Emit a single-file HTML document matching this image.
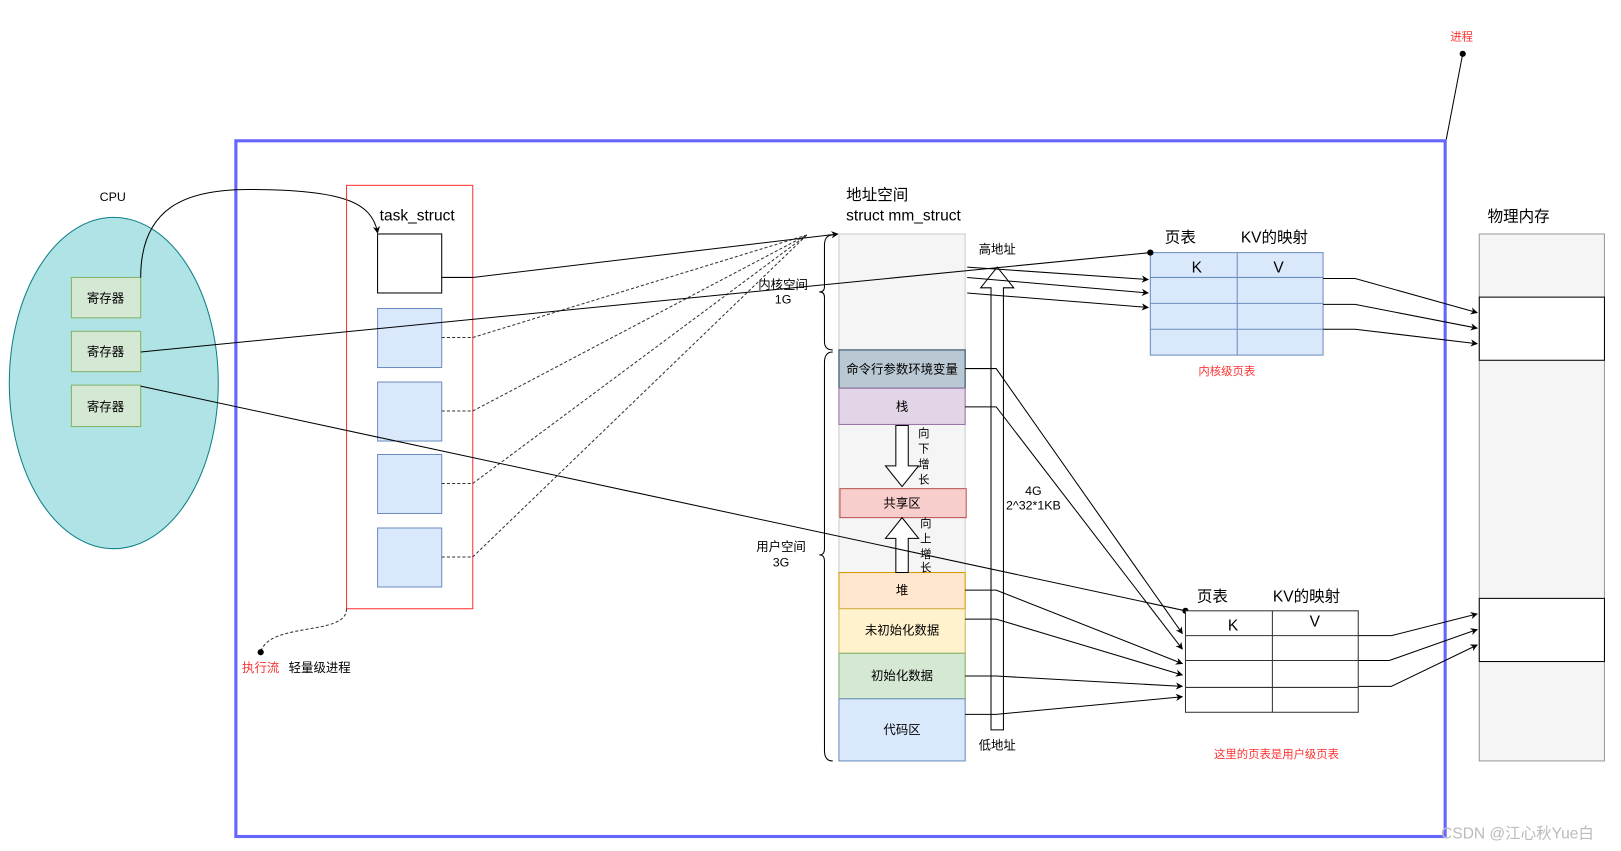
<!DOCTYPE html>
<html><head><meta charset="utf-8"><style>
html,body{margin:0;padding:0;background:#fff;}
svg{display:block;}
text{font-family:"Liberation Sans","Noto Sans CJK SC",sans-serif;}
</style></head><body>
<svg width="1621" height="851" viewBox="0 0 1567 822" preserveAspectRatio="none" xmlns="http://www.w3.org/2000/svg">
<defs>
<marker id="a" viewBox="0 0 10 10" refX="9" refY="5" markerWidth="7" markerHeight="7" orient="auto"><path d="M0,0L10,5L0,10L3,5z" fill="#000"/></marker>
</defs>
<rect width="1567" height="822" fill="#fff"/>
<text x="1413" y="39" font-size="11" fill="#ff3333" text-anchor="middle">进程</text>
<circle cx="1414" cy="52" r="3" fill="#000"/>
<line x1="1414" y1="52" x2="1398" y2="135" stroke="#000"/>
<rect x="228" y="136" width="1169" height="672" fill="none" stroke="#6666ff" stroke-width="3"/>
<text x="109" y="194" font-size="12" text-anchor="middle">CPU</text>
<ellipse cx="110" cy="370" rx="101" ry="160" fill="#b0e3e6" stroke="#0e8088"/>
<g fill="#d5e8d4" stroke="#82b366">
<rect x="69" y="268" width="67" height="39"/><rect x="69" y="320" width="67" height="39"/><rect x="69" y="372" width="67" height="40"/>
</g>
<g font-size="12" text-anchor="middle"><text x="102" y="292">寄存器</text><text x="102" y="344">寄存器</text><text x="102" y="397">寄存器</text></g>
<path d="M136,268 C136,200 180,183 240,183 C330,183 360,195 365,225" fill="none" stroke="#000" marker-end="url(#a)"/>
<rect x="335" y="179" width="122" height="409" fill="none" stroke="#ff3333"/>
<text x="367" y="213" font-size="15">task_struct</text>
<rect x="365" y="226" width="62" height="57" fill="#fff" stroke="#000"/>
<g fill="#dae8fc" stroke="#6c8ebf">
<rect x="365" y="298" width="62" height="57"/><rect x="365" y="369" width="62" height="57"/><rect x="365" y="439" width="62" height="57"/><rect x="365" y="510" width="62" height="57"/>
</g>
<g fill="none" stroke="#333" stroke-dasharray="3,2">
<path d="M427,326H457L780,227"/><path d="M427,397H457L780,227"/><path d="M427,467H457L780,227"/><path d="M427,538H457L780,227"/>
<path d="M335,588 C335,615 260,600 252,630"/>
</g>
<circle cx="252" cy="630" r="3" fill="#000"/>
<text x="252" y="649" font-size="12" fill="#ff3333" text-anchor="middle">执行流</text>
<text x="309" y="649" font-size="12" text-anchor="middle">轻量级进程</text>
<path d="M427,268H457L810,226" fill="none" stroke="#000" marker-end="url(#a)"/>
<text x="818" y="193" font-size="15">地址空间</text>
<text x="818" y="213" font-size="15">struct mm_struct</text>
<rect x="811" y="226" width="122" height="509" fill="#f5f5f5" stroke="#ccc"/>
<path d="M805,227 Q797,227 797,237 V277 Q797,282 792,282 Q797,282 797,287 V330 Q797,338 805,338" fill="none" stroke="#000"/>
<path d="M805,340 Q797,340 797,350 V530 Q797,536 792,536 Q797,536 797,542 V725 Q797,735 805,735" fill="none" stroke="#000"/>
<g font-size="12" text-anchor="middle">
<text x="757" y="279">内核空间</text><text x="757" y="293">1G</text>
<text x="755" y="532">用户空间</text><text x="755" y="547">3G</text>
</g>
<rect x="811" y="338" width="122" height="37" fill="#bac8d3" stroke="#23445d"/>
<rect x="811" y="375" width="122" height="35" fill="#e1d5e7" stroke="#9673a6"/>
<rect x="812" y="472" width="122" height="28" fill="#f8cecc" stroke="#b85450"/>
<rect x="811" y="553" width="122" height="35" fill="#ffe6cc" stroke="#d79b00"/>
<rect x="811" y="588" width="122" height="43" fill="#fff2cc" stroke="#d6b656"/>
<rect x="811" y="631" width="122" height="44" fill="#d5e8d4" stroke="#82b366"/>
<rect x="811" y="675" width="122" height="60" fill="#dae8fc" stroke="#6c8ebf"/>
<g font-size="12" text-anchor="middle">
<text x="872" y="361">命令行参数环境变量</text><text x="872" y="397">栈</text><text x="872" y="490">共享区</text>
<text x="872" y="574">堆</text><text x="872" y="613">未初始化数据</text><text x="872" y="657">初始化数据</text><text x="872" y="709">代码区</text>
</g>
<path d="M866,411H878V450H888L872,470L856,450H866Z" fill="#fff" stroke="#000"/>
<path d="M866,553V520H856L872,500L888,520H878V553Z" fill="#fff" stroke="#000"/>
<g font-size="11" text-anchor="middle">
<text x="893" y="422">向</text><text x="893" y="437">下</text><text x="893" y="452">增</text><text x="893" y="467">长</text>
<text x="895" y="509">向</text><text x="895" y="524">上</text><text x="895" y="539">增</text><text x="895" y="552">长</text>
</g>
<path d="M958,705V278H948L964,258L980,278H970V705Z" fill="#fff" stroke="#000"/>
<g font-size="12" text-anchor="middle">
<text x="964" y="245">高地址</text><text x="964" y="724">低地址</text>
<text x="999" y="478">4G</text><text x="999" y="492">2^32*1KB</text>
</g>
<text x="1141" y="234" font-size="15" text-anchor="middle">页表</text>
<text x="1232" y="234" font-size="15" text-anchor="middle">KV的映射</text>
<rect x="1112" y="244" width="167" height="99" fill="#dae8fc" stroke="#6c8ebf"/>
<g stroke="#6c8ebf"><line x1="1196" y1="244" x2="1196" y2="343"/><line x1="1112" y1="268" x2="1279" y2="268"/><line x1="1112" y1="293" x2="1279" y2="293"/><line x1="1112" y1="318" x2="1279" y2="318"/></g>
<text x="1157" y="263" font-size="15" text-anchor="middle">K</text>
<text x="1236" y="263" font-size="15" text-anchor="middle">V</text>
<text x="1186" y="362" font-size="11" fill="#ff3333" text-anchor="middle">内核级页表</text>
<g fill="none" stroke="#000" marker-end="url(#a)">
<path d="M935,258L1110,270"/><path d="M935,268L1110,283"/><path d="M935,283L1110,297"/>
</g>
<path d="M136,340L1112,244" fill="none" stroke="#000"/><circle cx="1112" cy="244" r="3" fill="#000"/>
<path d="M136,373L1146,590" fill="none" stroke="#000"/><circle cx="1146" cy="590" r="3" fill="#000"/>
<text x="1468" y="214" font-size="15" text-anchor="middle">物理内存</text>
<rect x="1430" y="226" width="121" height="509" fill="#f5f5f5" stroke="#999"/>
<rect x="1430" y="287" width="121" height="61" fill="#fff" stroke="#000"/>
<rect x="1430" y="578" width="121" height="61" fill="#fff" stroke="#000"/>
<g fill="none" stroke="#000" marker-end="url(#a)">
<path d="M1279,269H1310L1428,302"/><path d="M1279,294H1310L1428,317"/><path d="M1279,318H1310L1428,332"/>
<path d="M1313,614H1345L1428,593"/><path d="M1313,638H1343L1428,608"/><path d="M1313,663H1345L1428,623"/>
</g>
<text x="1172" y="581" font-size="15" text-anchor="middle">页表</text>
<text x="1263" y="581" font-size="15" text-anchor="middle">KV的映射</text>
<rect x="1146" y="590" width="167" height="98" fill="#fff" stroke="#333"/>
<g stroke="#333"><line x1="1230" y1="590" x2="1230" y2="688"/><line x1="1146" y1="614" x2="1313" y2="614"/><line x1="1146" y1="638" x2="1313" y2="638"/><line x1="1146" y1="664" x2="1313" y2="664"/></g>
<text x="1192" y="609" font-size="15" text-anchor="middle">K</text>
<text x="1271" y="605" font-size="15" text-anchor="middle">V</text>
<text x="1234" y="732" font-size="11" fill="#ff3333" text-anchor="middle">这里的页表是用户级页表</text>
<g fill="none" stroke="#000" marker-end="url(#a)">
<path d="M933,356H963L1143,612"/><path d="M933,393H963L1143,627"/>
<path d="M933,570H963L1143,641"/><path d="M933,598H963L1143,652"/>
<path d="M933,653H963L1143,663"/><path d="M933,690H963L1143,673"/>
</g>
<text x="1467" y="810" font-size="15" fill="#bbb" text-anchor="middle">CSDN @江心秋Yue白</text>
</svg>
</body></html>
